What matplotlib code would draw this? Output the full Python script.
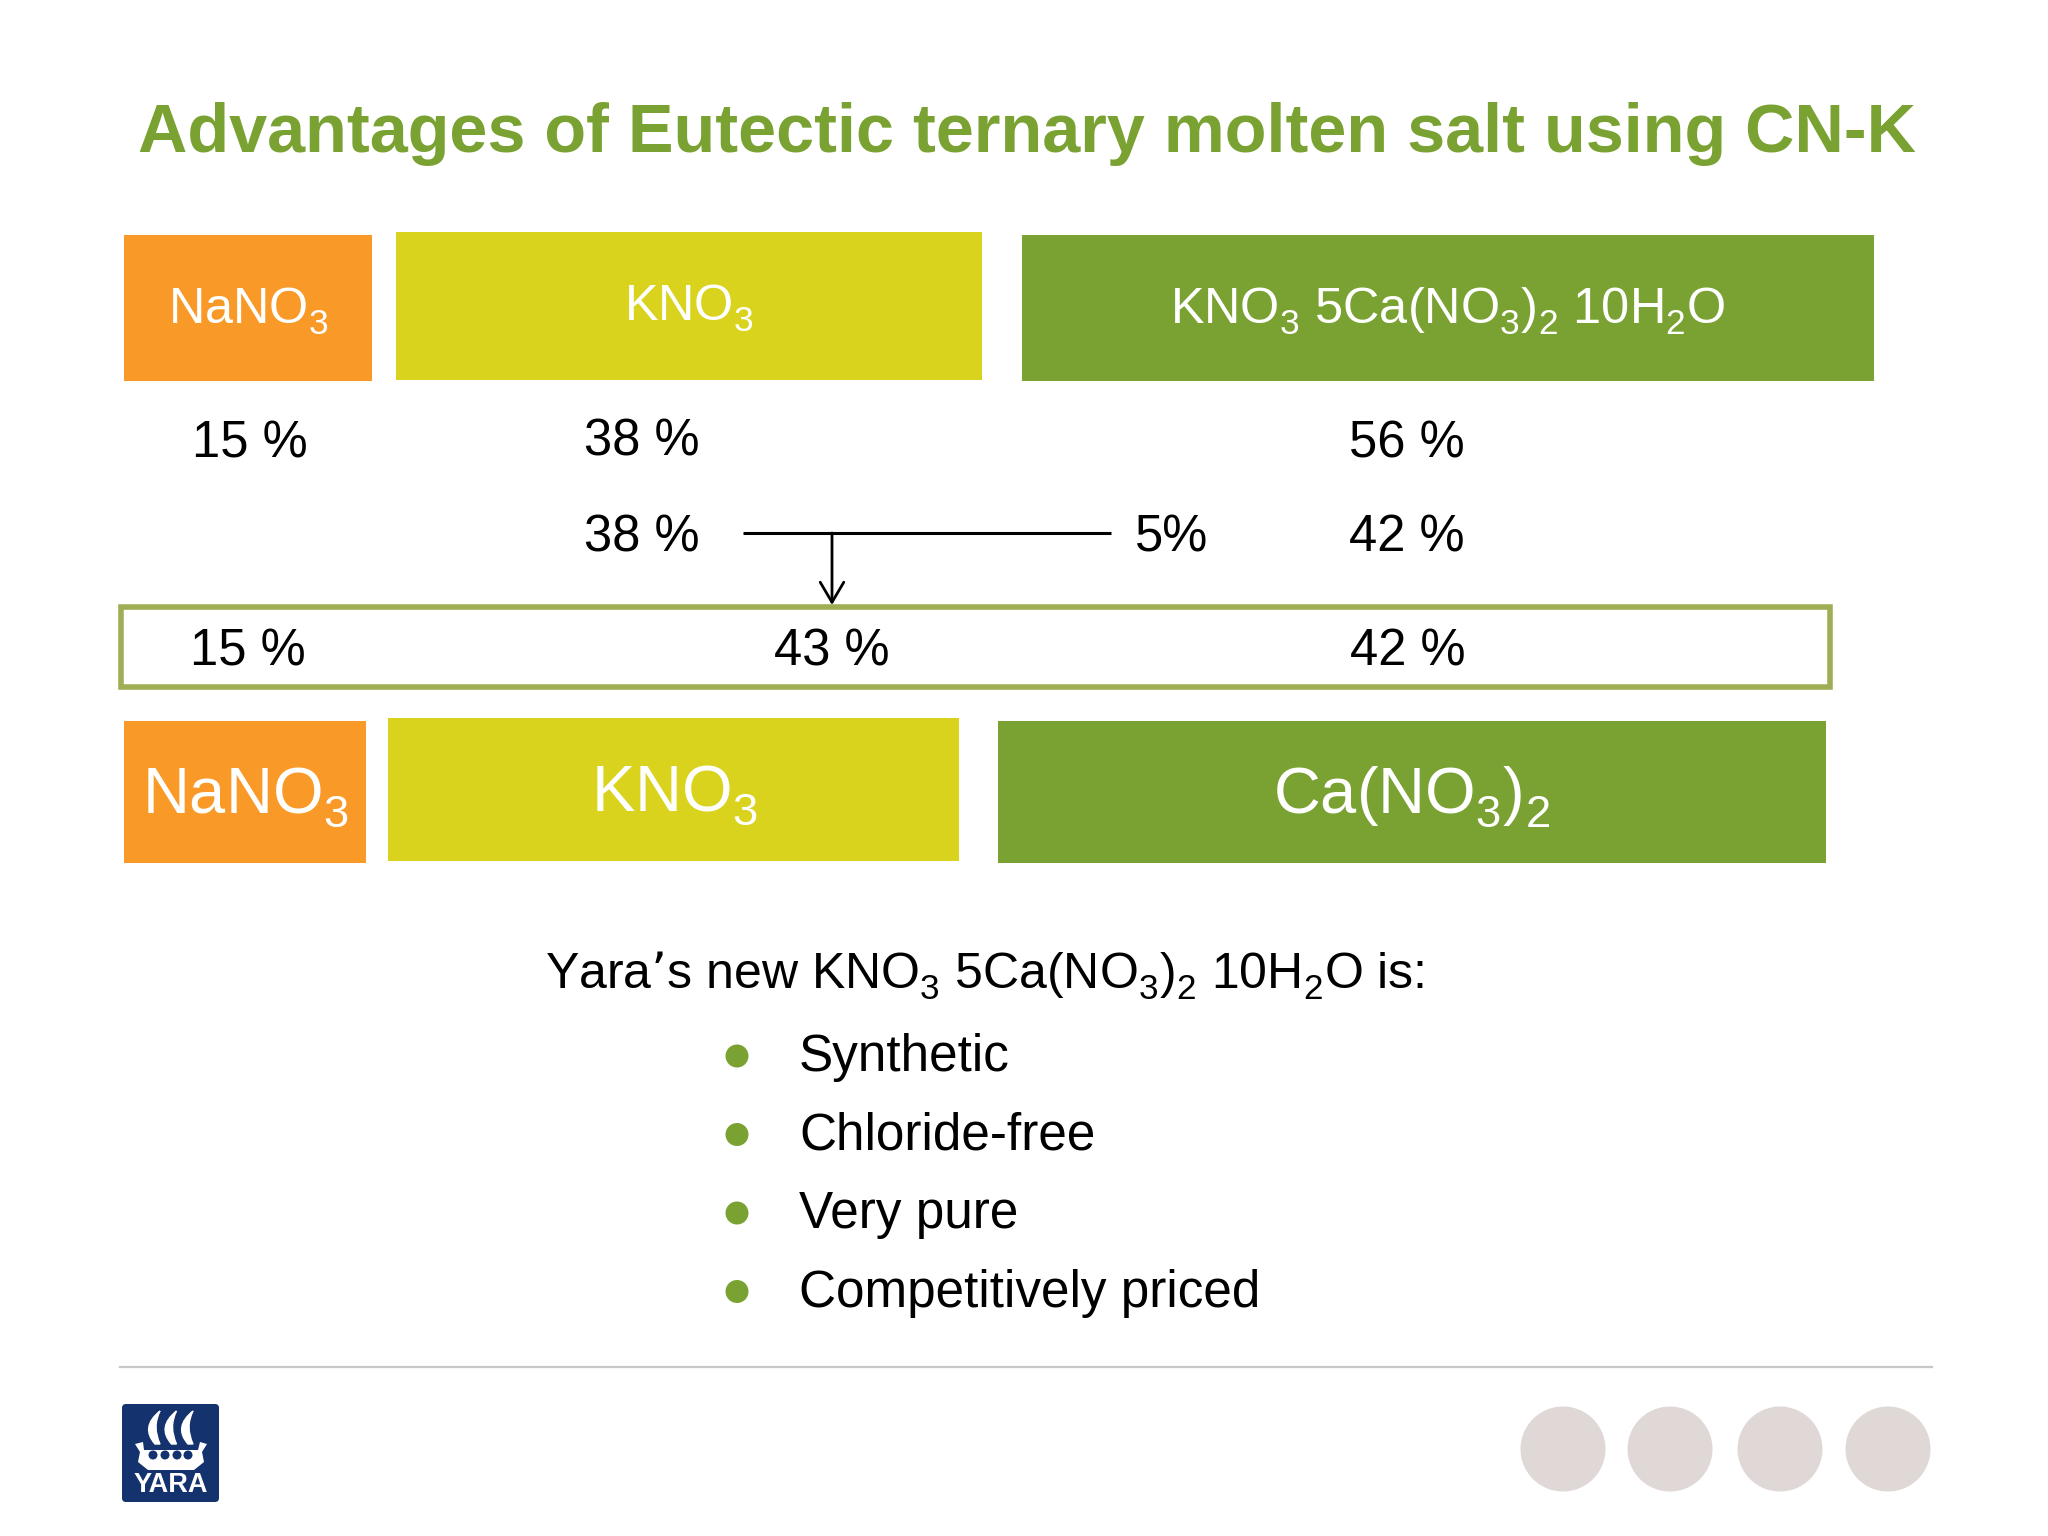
import matplotlib
matplotlib.use("Agg")
import matplotlib.pyplot as plt
from matplotlib import _mathtext
from matplotlib.patches import Rectangle, Circle, FancyBboxPatch, Polygon, PathPatch
from matplotlib.path import Path

title = "Advantages of Eutectic ternary molten salt using CN-K"
top_labels = ["NaNO$_3$", "KNO$_3$", "KNO$_3$ 5Ca(NO$_3$)$_2$ 10H$_2$O"]
bottom_labels = ["NaNO$_3$", "KNO$_3$", "Ca(NO$_3$)$_2$"]
row1 = ["15 %", "38 %", "56 %"]
row2 = ["38 %", "5%", "42 %"]
row3 = ["15 %", "43 %", "42 %"]
intro = "Yara\u2019s new KNO$_3$ 5Ca(NO$_3$)$_2$ 10H$_2$O is:"
bullets = ["Synthetic", "Chloride-free", "Very pure", "Competitively priced"]

ORANGE = "#f99a28"
YELLOW = "#d9d31e"
GREEN = "#7aa232"
BOX = "#9dae55"
NAVY = "#14326e"
GREY = "#e0d8d6"

plt.rcParams["font.family"] = ["Liberation Sans", "DejaVu Sans"]
plt.rcParams["mathtext.default"] = "regular"
# subscripts sit lower in the slide than matplotlib's default
_mathtext.FontConstantsBase.sub1 = 0.42
_mathtext.FontConstantsBase.sub2 = 0.42

fig = plt.figure(figsize=(20.48, 15.36), dpi=100)
ax = fig.add_axes([0, 0, 1, 1])
ax.set_xlim(0, 2048)
ax.set_ylim(1536, 0)
ax.axis("off")


def box(x0, y0, x1, y1, color):
    ax.add_patch(Rectangle((x0, y0), x1 - x0, y1 - y0, facecolor=color, edgecolor="none"))


def label(x, y, s, size=36.5, color="black", ha="center"):
    ax.text(x, y, s, fontsize=size, color=color, ha=ha, va="center_baseline")


ax.text(1027, 134, title, fontsize=49.2, fontweight="bold", color=GREEN, ha="center", va="center")

# top row
box(124, 235, 372, 381, ORANGE)
box(396, 232, 982, 380, YELLOW)
box(1022, 235, 1874, 381, GREEN)
label(248, 305, top_labels[0], size=36.3, color="white")
label(689, 302, top_labels[1], size=36.3, color="white")
label(1448, 305, top_labels[2], size=36.3, color="white")

# percentages
label(250, 439, row1[0])
label(642, 437, row1[1])
label(1407, 439, row1[2])
label(642, 533, row2[0])
label(1172, 533, row2[1])
label(1407, 533, row2[2])

# mixing line and arrow
ax.plot([743, 1111], [533, 533], color="black", lw=2.2, solid_capstyle="butt")
ax.annotate("", xy=(832, 605), xytext=(832, 533),
            arrowprops=dict(arrowstyle="->,head_length=0.85,head_width=0.5", color="black", lw=2,
                            mutation_scale=17, shrinkA=0, shrinkB=0))

# result row
ax.add_patch(Rectangle((121, 607), 1709, 80, facecolor="white", edgecolor=BOX, lw=4))
label(248, 647, row3[0])
label(832, 647, row3[1])
label(1408, 647, row3[2])

# bottom row
box(124, 721, 366, 863, ORANGE)
box(388, 718, 959, 861, YELLOW)
box(998, 721, 1826, 863, GREEN)
label(245, 789, bottom_labels[0], size=46.8, color="white")
label(674, 787, bottom_labels[1], size=46.8, color="white")
label(1412, 789, bottom_labels[2], size=46.8, color="white")

# notes
label(985, 969, intro, size=36)
for i, b in enumerate(bullets):
    y = 1056 + i * 78.5
    ax.add_patch(Circle((737, y), 11.5, facecolor=GREEN, edgecolor="none"))
    label(799, y - 4, b, size=36.9, ha="left")

# footer
ax.plot([120, 1932], [1367, 1367], color="#c8c8c8", lw=1.6)
for cx in [1563, 1670, 1780, 1888]:
    ax.add_patch(Circle((cx, 1449), 42.5, facecolor=GREY, edgecolor="none"))

# logo
ax.add_patch(FancyBboxPatch((122, 1404), 97, 98, boxstyle="round,pad=0,rounding_size=4",
                            facecolor=NAVY, edgecolor="none"))
for dx in [0, 16.5, 33]:
    ax.add_patch(PathPatch(Path(
        [(160 + dx, 1411), (140 + dx, 1427), (155 + dx, 1444), (160 + dx, 1444),
         (152 + dx, 1427), (160 + dx, 1411)],
        [Path.MOVETO, Path.CURVE3, Path.CURVE3, Path.LINETO, Path.CURVE3, Path.CURVE3]),
        facecolor="white", edgecolor="white", lw=1))
ax.add_patch(Polygon([(135, 1444), (143, 1442), (144, 1450), (150, 1450), (195, 1450), (198, 1450),
                      (200, 1442), (207, 1444), (202, 1452), (204, 1462), (194, 1470),
                      (148, 1470), (138, 1462), (140, 1452)],
                     facecolor="white", edgecolor="none"))
for cx in [153, 165, 177, 188]:
    ax.add_patch(Circle((cx, 1455), 4.5, facecolor=NAVY, edgecolor="none"))
ax.text(171, 1485, "YARA", fontsize=19.5, fontweight="bold", color="white", ha="center", va="center")

fig.savefig("out.png", dpi=100, facecolor="white")
